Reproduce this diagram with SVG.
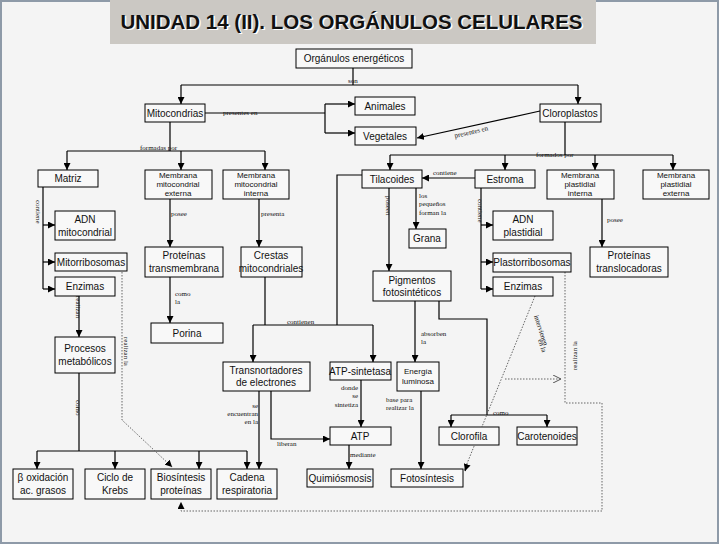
<svg xmlns="http://www.w3.org/2000/svg" width="719" height="544" viewBox="0 0 719 544">
<defs>
<marker id="a" viewBox="0 0 8 8" refX="8" refY="4" markerWidth="7" markerHeight="7" orient="auto" markerUnits="userSpaceOnUse"><path d="M0,0 L8,4 L0,8 z" fill="#000"/></marker>
<marker id="o" viewBox="0 0 8 8" refX="8" refY="4" markerWidth="8" markerHeight="8" orient="auto" markerUnits="userSpaceOnUse"><path d="M0,0 L8,4 L0,8" fill="none" stroke="#555"/></marker>
</defs>
<style>
.n rect{fill:#f8f8f8;stroke:#000;stroke-width:1}
.n text{font-family:"Liberation Sans",Arial,sans-serif;font-size:10px;fill:#111;text-anchor:middle}
.n text.s{font-size:8px}
.c path{fill:none;stroke:#000;stroke-width:1.2}
.c path.ar{marker-end:url(#a)}
.c path.d{stroke:#666;stroke-width:1;stroke-dasharray:1.5 1.5}
.l{font-family:"Liberation Serif","Times New Roman",serif;font-size:7px;fill:#111}
.t{font-family:"Liberation Sans",Arial,sans-serif;font-weight:bold;font-size:21px;text-anchor:middle}
</style>
<rect width="719" height="544" fill="#f4f4f4"/>
<rect x="0.5" y="0.5" width="718" height="543" fill="none" stroke="#8e9aa8" stroke-width="3"/>
<rect x="110" y="0" width="486" height="44" fill="#cbc8c3"/>
<text class="t" x="353" y="30" fill="#fff" textLength="462" lengthAdjust="spacingAndGlyphs">UNIDAD 14 (II). LOS ORGÁNULOS CELULARES</text>
<text class="t" x="351.5" y="28.5" fill="#111" textLength="462" lengthAdjust="spacingAndGlyphs">UNIDAD 14 (II). LOS ORGÁNULOS CELULARES</text>

<g class="c">
<path d="M353,68 V85 M181,85 H578"/>
<path class="ar" d="M181,85 V104"/><path class="ar" d="M578,85 V104"/>
<path d="M205,113 H325 M325,104 V133"/>
<path class="ar" d="M325,104 H355"/><path class="ar" d="M325,133 H355"/>
<path class="ar" d="M540,111 L417,138"/>
<path d="M170,122 V151 M67,151 H265"/>
<path class="ar" d="M67,151 V170"/><path class="ar" d="M181,151 V170"/><path class="ar" d="M265,151 V170"/>
<path d="M43,187 V289"/>
<path class="ar" d="M43,225 H55"/><path class="ar" d="M43,262 H55"/><path class="ar" d="M43,289 H55"/>
<path class="ar" d="M79,296 V337"/>
<path d="M79,373 V451 M37,451 H247"/>
<path class="ar" d="M37,451 V469"/><path class="ar" d="M115,451 V469"/><path class="ar" d="M199,451 V469"/><path class="ar" d="M247,451 V469"/>
<path class="d" d="M122,272 V420 L172,467"/>
<path d="M172,467 l0.1,0.1" marker-end="url(#a)"/>
<path class="ar" d="M170,199 V247"/>
<path class="ar" d="M170,277 V323"/>
<path class="ar" d="M259,199 V247"/>
<path d="M265,277 V325 M253,325 H373 M362,175 H337 V325"/>
<path class="ar" d="M253,325 V362"/><path class="ar" d="M373,325 V362"/>
<path class="ar" d="M259,391 V469"/>
<path class="ar" d="M271,391 V439 H330"/>
<path class="ar" d="M361,380 V427"/>
<path class="ar" d="M349,445 V469"/>
<path class="ar" d="M389,188 V271"/>
<path class="ar" d="M416,188 V229"/>
<path class="ar" d="M475,178 H422"/>
<path d="M565,122 V155 M390,155 H673"/>
<path class="ar" d="M390,155 V170"/><path class="ar" d="M505,155 V170"/><path class="ar" d="M595,155 V170"/><path class="ar" d="M673,155 V170"/>
<path d="M481,188 V289"/>
<path class="ar" d="M481,225 H493"/><path class="ar" d="M481,262 H493"/><path class="ar" d="M481,289 H493"/>
<path class="ar" d="M602,199 V247"/>
<path class="ar" d="M415,301 V362"/>
<path d="M439,301 V319 H487 V415 M451,415 H547"/>
<path class="ar" d="M451,415 V427"/><path class="ar" d="M547,415 V427"/>
<path class="ar" d="M421,391 V469"/>
<path class="d" d="M535,296 L464,471"/>
<path d="M466,468 l-1,3" marker-end="url(#a)"/>
<path class="d" d="M565,272 V403 H602 V511 H181 V503"/>
<path d="M181,502 l0,-0.1" marker-end="url(#a)"/>
<path class="d" d="M505,379 H561" marker-end="url(#o)"/>
</g>

<g class="l">
<text x="348" y="83">son</text>
<text x="223" y="115">presentes en</text>
<text x="0" y="0" transform="translate(455,138) rotate(-13)">presentes en</text>
<text x="140" y="150">formadas por</text>
<text x="0" y="0" transform="translate(36,200) rotate(90)">contiene</text>
<text x="0" y="0" transform="translate(76,296) rotate(90)">realizan</text>
<text x="0" y="0" transform="translate(76,400) rotate(90)">como</text>
<text x="0" y="0" transform="translate(124,337) rotate(90)">realizan la</text>
<text x="171" y="216">posee</text>
<text x="175" y="296">como</text><text x="175" y="304">la</text>
<text x="261" y="216">presenta</text>
<text x="287" y="324">contienen</text>
<text x="258" y="408" text-anchor="end">se</text><text x="258" y="416" text-anchor="end">encuentran</text><text x="258" y="424" text-anchor="end">en la</text>
<text x="277" y="446">liberan</text>
<text x="358" y="390" text-anchor="end">donde</text><text x="358" y="398" text-anchor="end">se</text><text x="358" y="407" text-anchor="end">sintetiza</text>
<text x="350" y="457">mediante</text>
<text x="0" y="0" transform="translate(386,196) rotate(90)">poseen</text>
<text x="419" y="198">los</text><text x="419" y="206">pequeños</text><text x="419" y="215">forman la</text>
<text x="433" y="175">contiene</text>
<text x="536" y="157">formados por</text>
<text x="0" y="0" transform="translate(478,199) rotate(90)">contiene</text>
<text x="607" y="222">posee</text>
<text x="421" y="336">absorben</text><text x="421" y="344">la</text>
<text x="493" y="415">como</text>
<text x="386" y="402">base para</text><text x="386" y="410">realizar la</text>
<text x="0" y="0" transform="translate(534,316) rotate(72)">intervienen</text>
<text x="0" y="0" transform="translate(538,340) rotate(72)">en la</text>
<text x="0" y="0" transform="translate(577,370) rotate(-90)">realizan la</text>
</g>

<g class="n">
<g id="organulos"><rect x="296" y="49" width="116" height="19"/><text x="354" y="62">Orgánulos energéticos</text></g>
<g id="mitocondrias"><rect x="145" y="104" width="60" height="18"/><text x="175" y="117">Mitocondrias</text></g>
<g id="animales"><rect x="355" y="97" width="60" height="18"/><text x="385" y="110">Animales</text></g>
<g id="vegetales"><rect x="355" y="127" width="61" height="18"/><text x="385" y="140">Vegetales</text></g>
<g id="cloroplastos"><rect x="540" y="104" width="61" height="18"/><text x="570" y="117">Cloroplastos</text></g>
<g id="matriz"><rect x="38" y="170" width="60" height="17"/><text x="68" y="182">Matriz</text></g>
<g id="mme"><rect x="145" y="170" width="67" height="29"/><text class="s" x="178" y="178">Membrana</text><text class="s" x="178" y="187">mitocondrial</text><text class="s" x="178" y="196">externa</text></g>
<g id="mmi"><rect x="223" y="170" width="66" height="29"/><text class="s" x="256" y="178">Membrana</text><text class="s" x="256" y="187">mitocondrial</text><text class="s" x="256" y="196">interna</text></g>
<g id="adnm"><rect x="55" y="211" width="60" height="29"/><text x="85" y="223">ADN</text><text x="85" y="236">mitocondrial</text></g>
<g id="mitorr"><rect x="55" y="253" width="72" height="18"/><text x="91" y="266">Mitorribosomas</text></g>
<g id="enzm"><rect x="55" y="277" width="60" height="19"/><text x="85" y="290">Enzimas</text></g>
<g id="protm"><rect x="145" y="247" width="78" height="30"/><text x="184" y="259">Proteínas</text><text x="184" y="272">transmembrana</text></g>
<g id="crestas"><rect x="241" y="247" width="61" height="30"/><text x="271" y="259">Crestas</text><text x="271" y="272">mitocondriales</text></g>
<g id="porina"><rect x="151" y="323" width="72" height="20"/><text x="187" y="337">Porina</text></g>
<g id="procesos"><rect x="55" y="337" width="60" height="36"/><text x="85" y="352">Procesos</text><text x="85" y="365">metabólicos</text></g>
<g id="transp"><rect x="223" y="362" width="87" height="29"/><text x="266" y="374">Transnortadores</text><text x="266" y="386">de electrones</text></g>
<g id="atps"><rect x="330" y="362" width="61" height="18"/><text x="360" y="375">ATP-sintetasa</text></g>
<g id="energia"><rect x="397" y="362" width="42" height="29"/><text class="s" x="418" y="374">Energía</text><text class="s" x="418" y="384">luminosa</text></g>
<g id="tilacoides"><rect x="362" y="170" width="60" height="18"/><text x="392" y="183">Tilacoides</text></g>
<g id="estroma"><rect x="475" y="170" width="60" height="18"/><text x="505" y="183">Estroma</text></g>
<g id="mpi"><rect x="547" y="170" width="67" height="29"/><text class="s" x="580" y="178">Membrana</text><text class="s" x="580" y="187">plastidial</text><text class="s" x="580" y="196">interna</text></g>
<g id="mpe"><rect x="643" y="170" width="66" height="29"/><text class="s" x="676" y="178">Membrana</text><text class="s" x="676" y="187">plastidial</text><text class="s" x="676" y="196">externa</text></g>
<g id="grana"><rect x="409" y="229" width="37" height="19"/><text x="427" y="242">Grana</text></g>
<g id="adnp"><rect x="493" y="211" width="60" height="29"/><text x="523" y="223">ADN</text><text x="523" y="236">plastidial</text></g>
<g id="plastorr"><rect x="493" y="253" width="78" height="19"/><text x="532" y="266">Plastorribosomas</text></g>
<g id="enzp"><rect x="493" y="277" width="60" height="19"/><text x="523" y="290">Enzimas</text></g>
<g id="prott"><rect x="590" y="247" width="78" height="30"/><text x="629" y="259">Proteínas</text><text x="629" y="272">translocadoras</text></g>
<g id="pigmentos"><rect x="373" y="271" width="78" height="30"/><text x="412" y="284">Pigmentos</text><text x="412" y="296">fotosintéticos</text></g>
<g id="atp"><rect x="330" y="427" width="61" height="18"/><text x="360" y="440">ATP</text></g>
<g id="clorofila"><rect x="439" y="427" width="60" height="18"/><text x="469" y="440">Clorofila</text></g>
<g id="carot"><rect x="517" y="427" width="60" height="18"/><text x="547" y="440">Carotenoides</text></g>
<g id="quimio"><rect x="307" y="469" width="66" height="18"/><text x="340" y="482">Quimiósmosis</text></g>
<g id="fotosintesis"><rect x="391" y="469" width="72" height="18"/><text x="427" y="482">Fotosíntesis</text></g>
<g id="boxid"><rect x="13" y="469" width="60" height="30"/><text x="43" y="481">β oxidación</text><text x="43" y="494">ac. grasos</text></g>
<g id="krebs"><rect x="85" y="469" width="60" height="30"/><text x="115" y="481">Ciclo de</text><text x="115" y="494">Krebs</text></g>
<g id="biosint"><rect x="151" y="469" width="60" height="30"/><text x="181" y="481">Biosíntesis</text><text x="181" y="494">proteínas</text></g>
<g id="cadena"><rect x="217" y="469" width="60" height="30"/><text x="247" y="481">Cadena</text><text x="247" y="494">respiratoria</text></g>
</g>
</svg>
